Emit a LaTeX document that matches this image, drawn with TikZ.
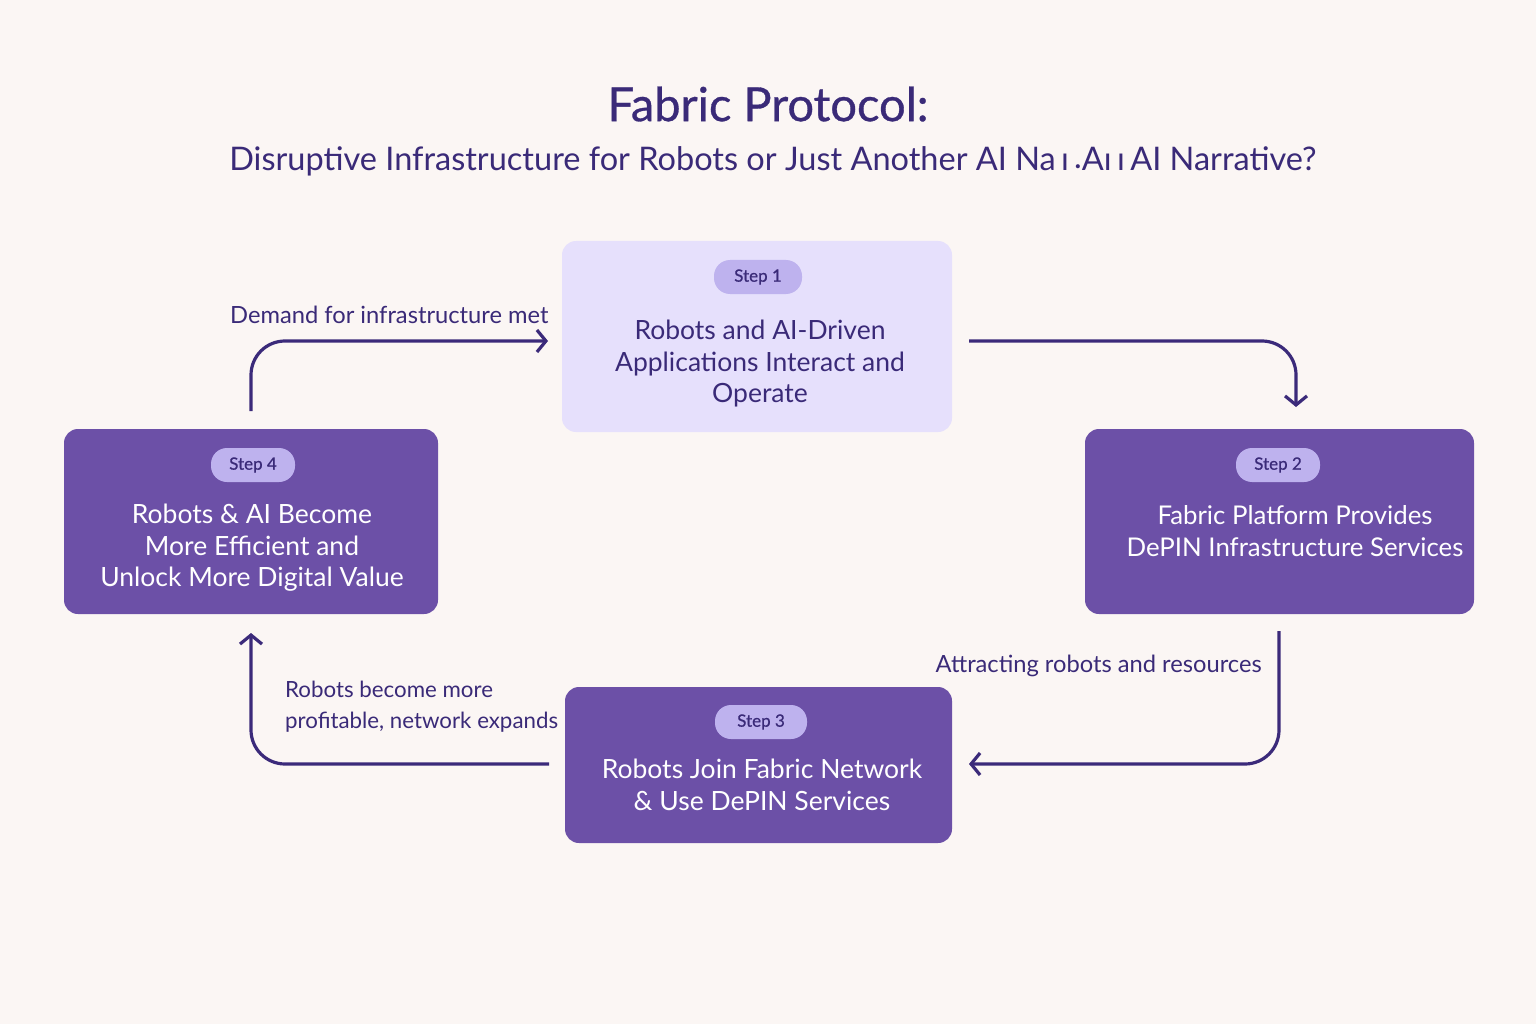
\documentclass[tikz,border=0pt]{standalone}
\usepackage{fontspec}
\setmainfont{Lato}
\newfontfamily\medfont{Lato}[FakeBold=0.7]
\usetikzlibrary{arrows.meta}
\definecolor{bg}{HTML}{FBF6F4}
\definecolor{ink}{HTML}{3A2A78}
\definecolor{lightbox}{HTML}{E6E0FC}
\definecolor{darkbox}{HTML}{6C50A7}
\definecolor{pill}{HTML}{BEB2EE}
\definecolor{arrowc}{HTML}{3B2A7A}
\tikzset{
  x=1pt,y=-1pt,
  boxlight/.style={rounded corners=14, fill=lightbox, draw=none},
  boxdark/.style={rounded corners=14, fill=darkbox, draw=none},
  steppill/.style={rounded corners=16, fill=pill, minimum height=34, minimum width=88, inner sep=0, font=\fontsize{17}{19}\selectfont\medfont, text=ink},
  boxtext/.style={align=center, font=\fontsize{26.5}{31.5}\selectfont},
  flow/.style={draw=arrowc, line width=3.2, rounded corners=34, -{Straight Barb[length=9,width=22,line width=3.2]}},
  lbl/.style={font=\fontsize{23.7}{31}\selectfont, text=ink, inner sep=0},
}
\begin{document}
\begin{tikzpicture}
\useasboundingbox (0,0) rectangle (1536,1024);
\fill[bg] (0,0) rectangle (1536,1024);
\node[font=\fontsize{47}{50}\selectfont\medfont, text=ink] (title) at (768,104) {Fabric Protocol:};
\node[font=\fontsize{32.5}{36}\selectfont, text=ink] (sub) at (773,161) {Disruptive Infrastructure for Robots or Just Another AI Na\,ı\,\raisebox{2pt}{.}Aı\,ı\,AI Narrative?};
% boxes
\path[boxlight] (562,241) rectangle (952,432);
\node (b1) at (757,336) {};
\path[boxdark] (1085,429) rectangle (1474,614);
\node (b2) at (1279,521) {};
\path[boxdark] (565,687) rectangle (952,843);
\node (b3) at (758,765) {};
\path[boxdark] (64,429) rectangle (438,614);
\node (b4) at (251,521) {};
% pills
\node[steppill] (p1) at (758,277) {Step 1};
\node[steppill, minimum width=84] (p2) at (1278,465) {Step 2};
\node[steppill, minimum width=92] (p3) at (761,722) {Step 3};
\node[steppill, minimum width=84] (p4) at (253,465) {Step 4};
% texts
\node[boxtext, text=ink] (t1) at (760,364) {Robots and AI-Driven\\Applications Interact and\\Operate};
\node[boxtext, text=white, font=\fontsize{25.8}{31.5}\selectfont] (t2) at (1295,531) {Fabric Platform Provides\\DePIN Infrastructure Services};
\node[boxtext, text=white] (t3) at (762,785) {Robots Join Fabric Network\\\& Use DePIN Services};
\node[boxtext, text=white] (t4) at (252,548) {Robots \& AI Become\\More Efficient and\\Unlock More Digital Value};
% connector anchors
\coordinate (a1s) at (251,411);
\coordinate (a1e) at (548,341);
\coordinate (a2s) at (969,341);
\coordinate (a2e) at (1296,407);
\coordinate (a3s) at (1279,631);
\coordinate (a3e) at (969,764);
\coordinate (a4s) at (549,764);
\coordinate (a4e) at (251,633);
\draw[flow] (a1s) |- (a1e);
\draw[flow] (a2s) -| (a2e);
\draw[flow] (a3s) |- (a3e);
\draw[flow] (a4s) -| (a4e);
% labels
\node[lbl, anchor=west] (l1) at (230,315) {Demand for infrastructure met};
\node[lbl, anchor=east] (l3) at (1262,666) {Attracting robots and resources};
\node[lbl, anchor=north west, align=left, font=\fontsize{22.3}{31}\selectfont] (l4) at (285,681) {Robots become more\\profitable, network expands};
\end{tikzpicture}
\end{document}
